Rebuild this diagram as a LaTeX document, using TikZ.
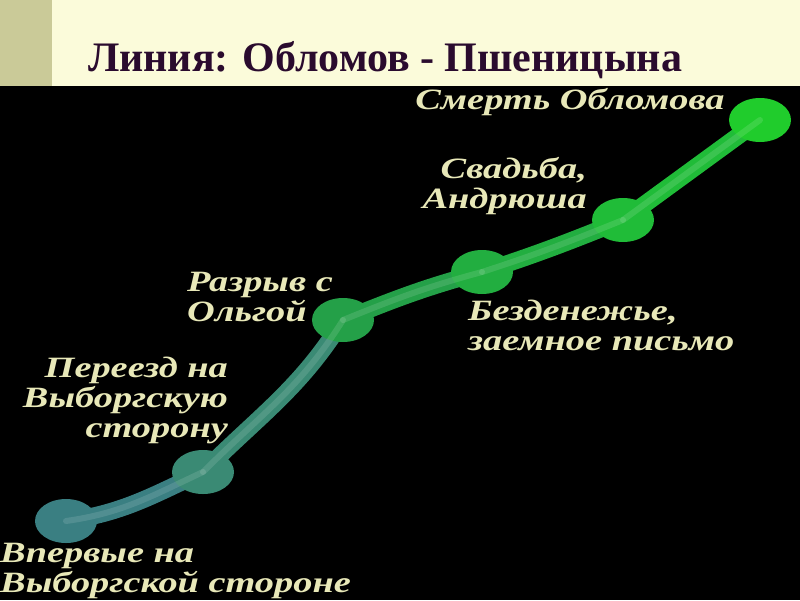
\documentclass[tikz,border=0pt]{standalone}
\usepackage{fontspec}
\setmainfont{Liberation Serif}
\newfontfamily\lblfont[FakeStretch=1.3]{Liberation Serif}
\usetikzlibrary{shapes.geometric}
\definecolor{cream}{HTML}{FBFBDA}
\definecolor{olive}{HTML}{CACA98}
\definecolor{titlec}{HTML}{2A0B2E}
\definecolor{lblc}{HTML}{E8E8B8}
\definecolor{cA}{HTML}{3A7F82}
\definecolor{cB}{HTML}{3A8A74}
\definecolor{cC}{HTML}{24A048}
\definecolor{cD}{HTML}{22AE40}
\definecolor{cE}{HTML}{20BC38}
\definecolor{cF}{HTML}{20CC2C}
\tikzset{
  dot/.style={ellipse, minimum width=62pt, minimum height=44pt, inner sep=0pt, draw=none},
  tube/.style={line width=17pt, line cap=round},
  shine/.style={line width=6pt, line cap=round, draw=white, draw opacity=0.12},
  lbl/.style={text=lblc, font=\lblfont\bfseries\itshape\fontsize{29.5}{30}\selectfont, inner sep=0pt}
}
\begin{document}
\begin{tikzpicture}[x=1pt,y=-1pt]
\useasboundingbox (0,0) rectangle (800,600);
\fill[cream] (0,0) rectangle (800,86);
\fill[olive] (0,0) rectangle (52,86);
\fill[black] (0,86) rectangle (800,600);
\node[anchor=base west, inner sep=0pt, text=titlec, font=\bfseries\fontsize{42}{48}\selectfont] (title) at (88,71) {Линия: Обломов - Пшеницына};
% points
\coordinate (p1) at (66,521);
\coordinate (p2) at (203,472);
\coordinate (p3) at (343,320);
\coordinate (p4) at (482,272);
\coordinate (p5) at (623,220);
\coordinate (p6) at (760,120);
% tube
\draw[tube, cA] (p1) to[out=8, in=205] (p2);
\draw[tube, cB] (p2) to[out=45, in=238] (p3);
\draw[tube, cC] (p3) to[out=22, in=195] (p4);
\draw[tube, cD] (p4) to[out=18, in=202] (p5);
\draw[tube, cE] (p5) -- (p6);
% nodes
\node[dot, fill=cA] (n1) at (p1) {};
\node[dot, fill=cB] (n2) at (p2) {};
\node[dot, fill=cC] (n3) at (p3) {};
\node[dot, fill=cD] (n4) at (p4) {};
\node[dot, fill=cE] (n5) at (p5) {};
\node[dot, fill=cF] (n6) at (p6) {};
% highlight
\draw[shine] (n1.center) to[out=8, in=205] (n2.center);
\draw[shine] (n2.center) to[out=45, in=238] (n3.center);
\draw[shine] (n3.center) to[out=22, in=195] (n4.center);
\draw[shine] (n4.center) to[out=18, in=202] (n5.center);
\draw[shine] (n5.center) -- (n6.center);
% labels
\node[lbl, anchor=north] (l6) at (570,88) {Смерть Обломова};
\node[lbl, anchor=north east, align=right] (l5) at (587,157) {Свадьба,\\Андрюша};
\node[lbl, anchor=north west, align=left] (l3) at (187,272) {Разрыв с\\Ольгой};
\node[lbl, anchor=north west, align=left] (l4) at (468,300) {Безденежье,\\заемное письмо};
\node[lbl, anchor=north east, align=right] (l2) at (228,357) {Переезд на\\Выборгскую\\сторону};
\node[lbl, anchor=north west, align=left] (l1) at (0,543) {Впервые на\\Выборгской стороне};
\end{tikzpicture}
\end{document}
